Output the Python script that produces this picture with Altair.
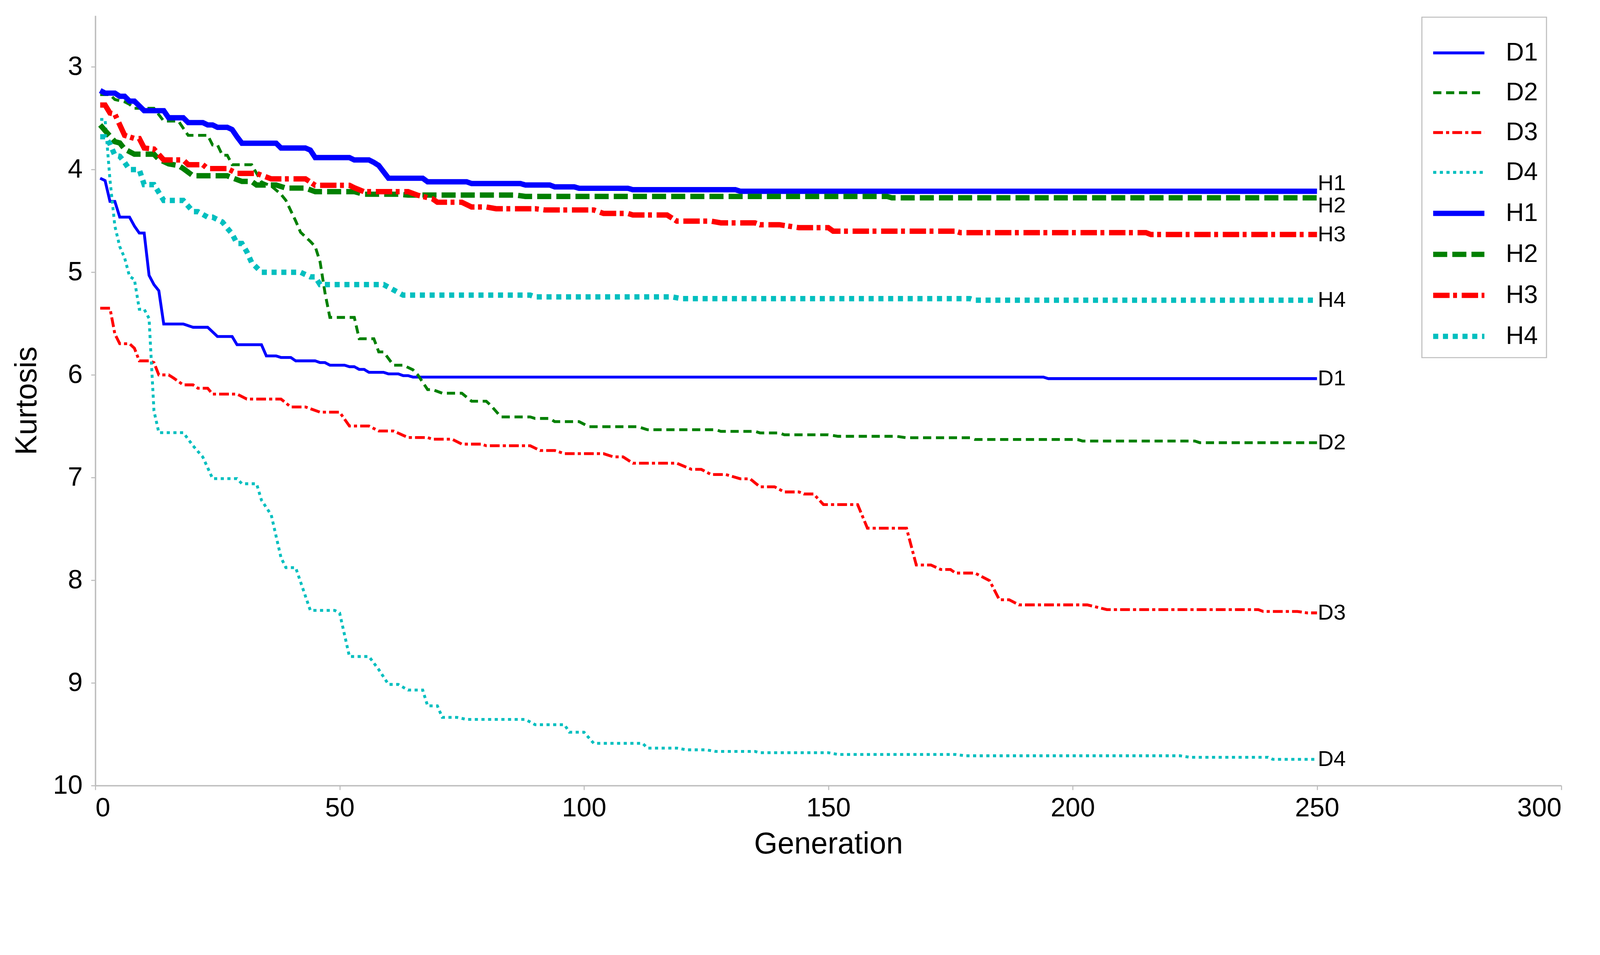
import altair as alt
import pandas as pd

SERIES = ["D1", "D2", "D3", "D4", "H1", "H2", "H3", "H4"]
COLORS = ["#0000FF", "#008000", "#FF0000", "#00BFBF", "#0000FF", "#008000", "#FF0000", "#00BFBF"]
DASHES = [[1, 0], [21, 12], [25, 8, 8, 8], [8, 9], [1, 0], [36, 13], [42, 9, 10, 12], [13, 12]]
WIDTHS = [7.3, 7.3, 7.3, 7.3, 13.7, 13.7, 13.7, 13.7]

D1 = [(1, 4.084), (2, 4.107), (3, 4.31), (4, 4.31), (5, 4.463), (7, 4.463), (8, 4.55), (9, 4.618),
      (10, 4.618), (11, 5.03), (12, 5.12), (13, 5.18), (14, 5.504), (18, 5.504), (20, 5.536), (23, 5.536),
      (25, 5.626), (28, 5.626), (29, 5.706), (34, 5.706), (35, 5.815), (37, 5.815), (38, 5.83), (40, 5.83),
      (41, 5.863), (45, 5.863), (46, 5.88), (47, 5.88), (48, 5.905), (51, 5.905), (52, 5.92), (53, 5.92),
      (54, 5.946), (55, 5.946), (56, 5.975), (59, 5.975), (60, 5.99), (62, 5.99), (63, 6.007), (64, 6.007),
      (65, 6.021), (194, 6.021), (195, 6.036), (250, 6.036)]

D2 = [(1, 3.27), (3, 3.27), (4, 3.317), (6, 3.34), (7, 3.364), (8, 3.403), (12, 3.403), (13, 3.465),
      (14, 3.527), (17, 3.527), (19, 3.666), (23, 3.666), (24, 3.76), (25, 3.76), (26, 3.86), (27, 3.86),
      (28, 3.952), (32, 3.952), (34, 4.12), (36, 4.16), (38, 4.24), (39, 4.30), (41, 4.5), (42, 4.61),
      (44, 4.70), (45, 4.75), (46, 4.9), (47, 5.2), (48, 5.44), (53, 5.44), (54, 5.648), (57, 5.648),
      (58, 5.776), (59, 5.776), (61, 5.905), (63, 5.905), (65, 5.95), (66, 6.0), (68, 6.143), (69, 6.143),
      (71, 6.178), (75, 6.178), (77, 6.256), (80, 6.256), (81, 6.30), (83, 6.409), (89, 6.409), (90, 6.424),
      (93, 6.424), (94, 6.455), (99, 6.455), (101, 6.504), (111, 6.504), (113, 6.534), (127, 6.534),
      (128, 6.55), (135, 6.55), (136, 6.565), (140, 6.565), (141, 6.583), (150, 6.583), (152, 6.598),
      (164, 6.598), (166, 6.612), (179, 6.612), (180, 6.629), (201, 6.629), (202, 6.644), (225, 6.644),
      (226, 6.66), (250, 6.66)]

D3 = [(1, 5.35), (3, 5.35), (4, 5.6), (5, 5.696), (7, 5.696), (8, 5.74), (9, 5.863), (11, 5.863),
      (12, 5.88), (13, 6.0), (15, 6.0), (16, 6.03), (18, 6.097), (20, 6.097), (21, 6.13), (23, 6.13),
      (24, 6.187), (29, 6.187), (31, 6.235), (38, 6.235), (40, 6.312), (43, 6.312), (46, 6.363), (50, 6.363),
      (52, 6.498), (56, 6.498), (58, 6.546), (61, 6.546), (64, 6.61), (68, 6.61), (69, 6.626), (73, 6.626),
      (75, 6.674), (79, 6.674), (80, 6.69), (89, 6.69), (91, 6.736), (94, 6.736), (96, 6.767), (104, 6.767),
      (106, 6.798), (108, 6.798), (110, 6.86), (119, 6.86), (122, 6.92), (124, 6.92), (126, 6.97),
      (129, 6.97), (132, 7.012), (134, 7.012), (136, 7.09), (139, 7.09), (141, 7.14), (144, 7.14),
      (145, 7.16), (147, 7.16), (149, 7.263), (156, 7.263), (158, 7.493), (166, 7.493), (168, 7.852),
      (171, 7.852), (173, 7.895), (175, 7.895), (176, 7.93), (180, 7.93), (183, 8.004), (185, 8.19),
      (187, 8.19), (189, 8.24), (203, 8.24), (207, 8.286), (238, 8.286), (239, 8.304), (246, 8.304),
      (248, 8.318), (250, 8.318)]

D4 = [(1, 3.511), (2, 3.511), (3, 4.1), (4, 4.55), (5, 4.75), (6, 4.86), (7, 5.04), (8, 5.07), (9, 5.36),
      (10, 5.36), (11, 5.45), (12, 6.35), (13, 6.562), (18, 6.562), (20, 6.69), (22, 6.80), (24, 7.01),
      (29, 7.01), (30, 7.06), (33, 7.06), (34, 7.22), (36, 7.364), (38, 7.78), (39, 7.877), (41, 7.877),
      (44, 8.294), (49, 8.294), (50, 8.32), (52, 8.743), (56, 8.743), (58, 8.87), (60, 9.015), (62, 9.015),
      (64, 9.07), (67, 9.07), (68, 9.224), (70, 9.224), (71, 9.336), (74, 9.336), (76, 9.356), (88, 9.356),
      (90, 9.407), (96, 9.407), (97, 9.48), (100, 9.48), (102, 9.589), (112, 9.589), (113, 9.635),
      (119, 9.635), (121, 9.652), (125, 9.652), (127, 9.668), (135, 9.668), (136, 9.68), (150, 9.68),
      (152, 9.697), (176, 9.697), (178, 9.71), (222, 9.71), (224, 9.725), (240, 9.725), (241, 9.745),
      (250, 9.745)]

H1 = [(1, 3.23), (2, 3.255), (4, 3.255), (5, 3.286), (6, 3.286), (7, 3.333), (8, 3.333), (10, 3.426),
      (14, 3.426), (15, 3.495), (18, 3.495), (19, 3.542), (22, 3.542), (23, 3.565), (24, 3.565),
      (25, 3.588), (27, 3.588), (28, 3.61), (29, 3.68), (30, 3.743), (37, 3.743), (38, 3.79), (43, 3.79),
      (44, 3.81), (45, 3.883), (52, 3.883), (53, 3.906), (56, 3.906), (57, 3.93), (58, 3.96), (60, 4.084),
      (67, 4.084), (68, 4.119), (76, 4.119), (77, 4.136), (87, 4.136), (88, 4.15), (93, 4.15), (94, 4.168),
      (98, 4.168), (99, 4.182), (109, 4.182), (110, 4.196), (131, 4.196), (132, 4.211), (250, 4.211)]

H2 = [(1, 3.565), (2, 3.62), (4, 3.728), (5, 3.74), (6, 3.80), (8, 3.85), (12, 3.85), (13, 3.90),
      (15, 3.944), (17, 3.96), (18, 3.99), (20, 4.06), (27, 4.06), (28, 4.08), (30, 4.115), (32, 4.115),
      (33, 4.15), (37, 4.15), (39, 4.18), (43, 4.18), (45, 4.215), (53, 4.215), (55, 4.24), (62, 4.24),
      (64, 4.248), (86, 4.248), (88, 4.261), (162, 4.261), (163, 4.275), (250, 4.275)]

H3 = [(1, 3.371), (2, 3.371), (3, 3.449), (4, 3.46), (6, 3.666), (8, 3.697), (9, 3.697), (10, 3.79),
      (12, 3.80), (14, 3.906), (18, 3.906), (19, 3.952), (22, 3.952), (23, 3.99), (27, 3.99), (29, 4.037),
      (33, 4.037), (36, 4.09), (43, 4.09), (45, 4.153), (52, 4.153), (53, 4.177), (55, 4.215), (64, 4.215),
      (66, 4.25), (69, 4.284), (70, 4.318), (75, 4.318), (77, 4.364), (80, 4.364), (82, 4.381), (90, 4.381),
      (92, 4.393), (102, 4.393), (104, 4.427), (109, 4.427), (110, 4.442), (117, 4.442), (119, 4.502),
      (126, 4.502), (128, 4.519), (135, 4.519), (136, 4.537), (140, 4.537), (144, 4.566), (150, 4.566),
      (151, 4.60), (176, 4.60), (177, 4.614), (215, 4.614), (216, 4.632), (250, 4.632)]

H4 = [(1, 3.68), (2, 3.68), (3, 3.75), (4, 3.86), (5, 3.87), (6, 3.93), (7, 4.0), (9, 4.0), (10, 4.146),
      (12, 4.146), (14, 4.30), (18, 4.30), (20, 4.41), (21, 4.41), (23, 4.463), (24, 4.463), (26, 4.51),
      (27, 4.57), (28, 4.626), (29, 4.72), (30, 4.72), (31, 4.80), (32, 4.906), (34, 5.0), (42, 5.0),
      (44, 5.045), (45, 5.045), (46, 5.12), (59, 5.12), (63, 5.223), (89, 5.223), (90, 5.24), (118, 5.24),
      (120, 5.257), (179, 5.257), (180, 5.272), (250, 5.272)]

END_LABEL_DY = {"H1": -20, "H2": 20}

FONT = "Liberation Sans"

rows = []
for name, pts in zip(SERIES, [D1, D2, D3, D4, H1, H2, H3, H4]):
    for g, v in pts:
        rows.append({"series": name, "generation": g, "kurtosis": v})
df = pd.DataFrame(rows)
last = df.sort_values("generation").groupby("series").tail(1)

x_scale = alt.Scale(domain=[0, 300], nice=False, zero=False)
y_scale = alt.Scale(domain=[2.5, 10], reverse=True, nice=False, zero=False)

lines = alt.Chart(df).mark_line(strokeCap="butt", strokeJoin="miter").encode(
    x=alt.X("generation:Q", scale=x_scale,
            axis=alt.Axis(title="Generation", values=[0, 50, 100, 150, 200, 250, 300], grid=False, format="d")),
    y=alt.Y("kurtosis:Q", scale=y_scale,
            axis=alt.Axis(title="Kurtosis", values=[3, 4, 5, 6, 7, 8, 9, 10], grid=False, format="d")),
    color=alt.Color("series:N", scale=alt.Scale(domain=SERIES, range=COLORS),
                    legend=alt.Legend(title=None)),
    strokeDash=alt.StrokeDash("series:N", scale=alt.Scale(domain=SERIES, range=DASHES),
                              legend=alt.Legend(title=None)),
    strokeWidth=alt.StrokeWidth("series:N", scale=alt.Scale(type="ordinal", domain=SERIES, range=WIDTHS),
                                legend=alt.Legend(title=None)),
    detail="series:N",
    order="generation:Q",
)

texts = []
for name in SERIES:
    texts.append(
        alt.Chart(last[last["series"] == name]).mark_text(
            align="left", baseline="middle", dx=2, dy=END_LABEL_DY.get(name, 0),
            fontSize=56, font=FONT, color="black"
        ).encode(x=alt.X("generation:Q", scale=x_scale), y=alt.Y("kurtosis:Q", scale=y_scale), text="series:N")
    )

chart = alt.layer(lines, *texts).properties(
    width=3753, height=1972,
    autosize=alt.AutoSizeParams(type="none"),
    padding={"left": 236, "top": 32, "right": 91, "bottom": 209},
    background="white",
).configure_view(stroke=None).configure_axis(
    labelFont=FONT, titleFont=FONT, labelFontSize=68, titleFontSize=77,
    labelColor="black", titleColor="black", titleFontWeight="normal",
    domainColor="#BDBDBD", domainWidth=3.6, tickColor="#BDBDBD", tickWidth=2.7, tickSize=11,
).configure_axisX(labelPadding=13, titlePadding=20).configure_axisY(
    labelPadding=22, titlePadding=27
).configure_legend(
    orient="none", legendX=3396, legendY=4,
    symbolType="stroke", symbolSize=17200,
    labelFont=FONT, labelFontSize=64, labelColor="black", labelOffset=48,
    rowPadding=0, padding=22, strokeColor="#BDBDBD", strokeWidth=2.7,
    fillColor="white", labelLimit=0,
)

chart.save("out.html", embed_options={"renderer": "svg", "actions": False})
